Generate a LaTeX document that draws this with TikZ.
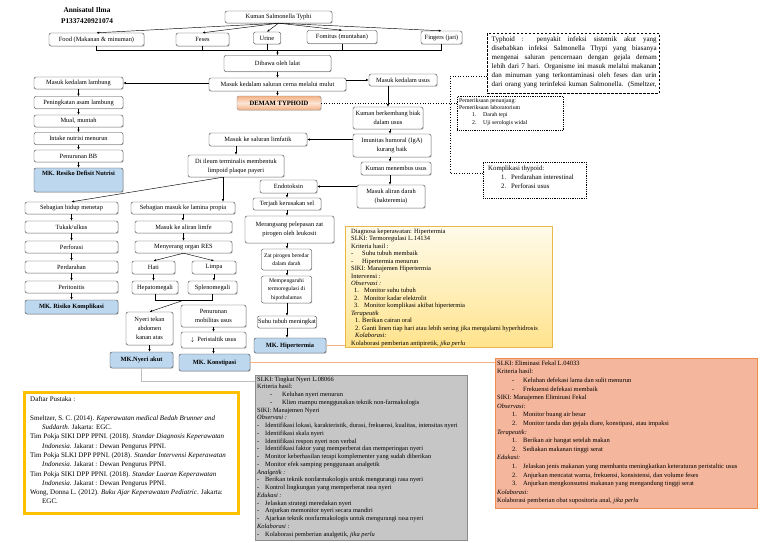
\documentclass[tikz,border=0pt]{standalone}
\usepackage{fontspec}
\setmainfont{Liberation Serif}
\usetikzlibrary{arrows.meta,calc,shadows}
\definecolor{mkblue}{HTML}{BDD7EE}
\definecolor{demamA}{HTML}{F4B183}
\definecolor{demamB}{HTML}{FBE5D6}
\definecolor{yelA}{HTML}{FFFBEA}
\definecolor{yelB}{HTML}{FFE38C}
\definecolor{yelborder}{HTML}{E8B94A}
\definecolor{grayfill}{HTML}{C6C6C6}
\definecolor{grayborder}{HTML}{8C8C8C}
\definecolor{orfill}{HTML}{F4B69C}
\definecolor{orborder}{HTML}{EE8B4E}
\definecolor{goldb}{HTML}{FFC000}
\newcommand\fb{\fontsize{6.4}{9}\selectfont}
\newcommand\fbs{\fontsize{5.7}{8.6}\selectfont}
\newcommand\itm[3]{\hspace*{#1}\makebox[#2][l]{#3}}
\newcommand\jl[1]{\makebox[165pt][s]{#1}}
\begin{document}
\begin{tikzpicture}[x=1pt,y=-1pt,
  sz/.style 2 args={minimum width=#1pt, minimum height=#2pt},
  shd/.style={drop shadow={shadow xshift=0.7pt,shadow yshift=-0.7pt,fill=black,opacity=0.22}},
  bx/.style={shd,draw=black!75, line width=0.4pt, rounded corners=2pt, fill=white, align=center, font=\fb, inner sep=0.5pt},
  bxs/.style={bx, font=\fbs},
  mk/.style={bx, fill=mkblue, font=\fontsize{6.4}{8}\selectfont\bfseries},
  demamst/.style={shd,draw=black!45, line width=0.4pt, rounded corners=2pt, top color=demamA, bottom color=demamA, middle color=demamB, font=\fontsize{6.6}{8}\selectfont\bfseries, inner sep=0.5pt},
  arr/.style={-{Latex[length=2.6pt,width=2.2pt]}, line width=0.45pt, black},
  ln/.style={line width=0.45pt, black},
  dotl/.style={dotted, line width=0.6pt, black},
  txt/.style={anchor=north west, inner sep=0pt, align=left}
]
\path[use as bounding box, fill=white] (0,0) rectangle (768,543);

% header
\node[font=\fontsize{7.3}{9}\selectfont\bfseries] (author) at (87,10) {Annisatul Ilma};
\node[font=\fontsize{7.3}{9}\selectfont\bfseries] (nim) at (87,21) {P1337420921074};

% top row
\node[bx,sz={107}{12}] (kuman) at (278.5,17) {Kuman Salmonella Typhi};
\node[bx,sz={95}{13}] (food) at (96.5,39.5) {Food (Makanan \& minuman)};
\node[bx,sz={53}{13}] (feses) at (202.5,39.5) {Feses};
\node[bx,sz={27}{12}] (urine) at (267,38) {Urine};
\node[bx,sz={70}{13}] (fomitus) at (342,37) {Fomitus (muntahan)};
\node[bx,sz={41}{13}] (fingers) at (441.5,37.5) {Fingers (jari)};
\foreach \n in {food,feses,urine,fomitus,fingers} \draw[arr] (kuman.south) -- (\n.north);

\node[bx,sz={107}{16}] (dibawa) at (277.5,63.5) {Dibawa oleh lalat};
\coordinate (brL) at ($(food.south)+(0,4)$);
\draw[ln] (food.south) -- (brL) -- (brL -| fingers.south) -- (fingers.south);
\draw[ln] (feses.south) -- (feses.south |- brL);
\draw[ln] (urine.south) -- (urine.south |- brL);
\draw[ln] (fomitus.south) -- (fomitus.south |- brL);
\draw[arr] (brL -| dibawa.north) -- (dibawa.north);

\node[bx,sz={137}{13}] (saluran) at (277.5,84.5) {Masuk kedalam saluran cerna melalui mulut};
\draw[arr] (dibawa) -- (saluran);
\node[bx,sz={68}{12}] (usus) at (403,80) {Masuk kedalam usus};
\draw[arr] (usus.west -| saluran.east) -- (usus.west);
\node[bx,sz={89}{12}] (lambung) at (78.5,83) {Masuk kedalam lambung};
\draw[arr] (saluran.west |- lambung.east) -- (lambung.east);
\node[demamst,sz={84}{14}] (demam) at (279,103) {DEMAM TYPHOID};
\draw[arr] (saluran.south) -- (saluran.south |- demam.north);

% left column
\node[bx,sz={89}{12}] (asam) at (78.5,102.5) {Peningkatan asam lambung};
\node[bx,sz={89}{12}] (mual) at (78.5,121) {Mual, muntah};
\node[bx,sz={89}{12}] (intake) at (78.5,138.5) {Intake nutrisi menurun};
\node[bx,sz={89}{12}] (bb) at (78.5,156) {Penurunan BB};
\node[mk,sz={89}{24},text height=5pt,text depth=14pt] (mkdef) at (78.5,180) {MK. Resiko Defisit Nutrisi};
\draw[arr] (lambung) -- (asam);
\draw[arr] (asam) -- (mual);
\draw[arr] (mual) -- (intake);
\draw[arr] (intake) -- (bb);
\draw[arr] (bb) -- (mkdef);

% right chain
\coordinate (rx) at (390,0);
\node[bx,sz={70}{22}] (kbb) at (388,118) {Kuman berkembang biak\\dalam usus};
\node[bx,sz={78}{23}] (imun) at (392,145.5) {Imunitas humoral (IgA)\\kurang baik};
\node[bx,sz={70}{13}] (tembus) at (396,168.5) {Kuman menembus usus};
\node[bx,sz={68}{23}] (darah) at (391,196.5) {Masuk aliran darah\\(bakteremia)};
\draw[arr] (usus.south -| kbb.north) -- (kbb.north);
\draw[arr] (kbb.south -| rx) -- (imun.north -| rx);
\draw[arr] (imun.south -| rx) -- (tembus.north -| rx);
\draw[arr] (tembus.south -| rx) -- (darah.north -| rx);

\node[bx,sz={98}{13}] (limf) at (258,139.5) {Masuk ke saluran limfatik};
\node[bx,sz={96}{22}] (ileum) at (236,166) {Di ileum terminalis membentuk\\limpoid plaque payeri};
\draw[arr] (limf.east -| imun.west) -- (limf.east);
\draw[arr] (ileum.north |- limf.south) -- (ileum.north);

\node[bx,sz={57}{13}] (endo) at (288.5,186.5) {Endotoksin};
\node[bx,sz={68}{12}] (rusak) at (287,204) {Terjadi kerusakan sel};
\node[bx,sz={89}{27}] (pirogen) at (289.5,229.5) {Merangsang pelepasan zat\\pirogen oleh leukosit};
\node[bxs,sz={50}{21}] (beredar) at (286.5,259.5) {Zat pirogen beredar\\dalam darah};
\node[bxs,sz={50}{27}] (termo) at (286.5,289.5) {Mempengaruhi\\termoregulasi di\\hipothalamus};
\node[bx,sz={58}{12}] (suhu) at (287,322) {Suhu tubuh meningkat};
\node[mk,sz={72}{15}] (mkhiper) at (290,345.5) {MK. Hipertermia};
\coordinate (mx) at (287,0);
\draw[arr] (endo.east -| darah.west) -- (endo.east);
\draw[arr] (endo.south -| mx) -- (rusak.north -| mx);
\draw[arr] (rusak.south -| mx) -- (pirogen.north -| mx);
\draw[arr] (pirogen.south -| mx) -- (beredar.north -| mx);
\draw[arr] (beredar.south -| mx) -- (termo.north -| mx);
\draw[arr] (termo.south -| mx) -- (suhu.north -| mx);
\draw[arr] (suhu.south -| mx) -- (mkhiper.north -| mx);

% lower left tree
\node[bx,sz={93}{12}] (hidup) at (71.5,208) {Sebagian hidup menetap};
\node[bx,sz={93}{12}] (tukak) at (71.5,227) {Tukak/ulkus};
\node[bx,sz={93}{12}] (perf) at (71.5,247) {Perforasi};
\node[bx,sz={93}{12}] (perd) at (71.5,267) {Perdarahan};
\node[bx,sz={93}{12}] (perit) at (71.5,287) {Peritonitis};
\node[mk,sz={93}{14}] (mkkomp) at (71.5,307) {MK. Risiko Komplikasi};
\draw[arr] (hidup) -- (tukak);
\draw[arr] (tukak) -- (perf);
\draw[arr] (perf) -- (perd);
\draw[arr] (perd) -- (perit);
\draw[arr] (perit) -- (mkkomp);

\coordinate (ib) at ($(ileum.south)+(-13,0)$);
\node[bx,sz={104}{12}] (lamina) at (183,208) {Sebagian masuk ke lamina propia};
\draw[arr] (ib) -- (hidup.north);
\draw[arr] (ib) -- (ib |- lamina.north);
\node[bx,sz={97}{12}] (limfe) at (183.5,227) {Masuk ke aliran limfe};
\node[bx,sz={97}{12}] (res) at (183.5,247) {Menyerang organ RES};
\draw[arr] (lamina.south) -- (lamina.south |- limfe.north);
\draw[arr] (limfe.south) -- (limfe.south |- res.north);
\node[bx,sz={43}{13}] (hati) at (153.5,267.5) {Hati};
\node[bx,sz={44}{13}] (limpa) at (214,267.5) {Limpa};
\node[bx,sz={46}{13}] (hepato) at (155,287.5) {Hepatomegali};
\node[bx,sz={49}{13}] (spleno) at (212.5,287.5) {Splenomegali};
\draw[arr] (res.south) -- (hati.north);
\draw[arr] (res.south) -- (limpa.north);
\draw[arr] (hati.south) -- (hati.south |- hepato.north);
\draw[arr] (limpa.south) -- (limpa.south |- spleno.north);
\coordinate (hb) at ($(hepato.south)+(0,6)$);
\draw[ln] (hepato.south) -- (hb) -- (hb -| spleno.south) -- (spleno.south);
\coordinate (hm) at ($(hb)!0.5!(hb -| spleno.south)$);
\node[bx,sz={47}{33}] (nyeri) at (149.5,328.5) {Nyeri tekan\\abdomen\\kanan atas};
\draw[arr] (hm) -- (nyeri.north);
\node[bx,sz={65}{22}] (penurunan) at (213.5,316) {Penurunan\\mobilitas usus};
\node[bx,sz={65}{16}] (peris) at (213.5,340) {$\downarrow$\hspace{3pt}Peristaltik usus};
\node[mk,sz={63}{16}] (mknyeri) at (141.5,360) {MK.Nyeri akut};
\node[mk,sz={71}{17}] (mkkonst) at (214.5,362.5) {MK. Konstipasi};
\draw[arr] (nyeri.south) -- (nyeri.south |- mknyeri.north);
\draw[arr] (penurunan.south) -- (penurunan.south |- peris.north);
\draw[arr] (peris.south) -- (peris.south |- mkkonst.north);

% info boxes top right
\node[draw=black, line width=0.9pt, dash pattern=on 2.5pt off 1.5pt, sz={172}{60}, anchor=north west, inner sep=0pt] (typ) at (487,33) {};
\node[txt, font=\fontsize{7}{9}\selectfont] (typtxt) at ($(typ.north west)+(4.5,3)$) {%
\jl{Typhoid : penyakit infeksi sistemik akut yang}\\
\jl{disebabkan infeksi Salmonella Thypi yang biasanya}\\
\jl{mengenai saluran pencernaan dengan gejala demam}\\
\jl{lebih dari 7 hari. Organisme ini masuk melalui makanan}\\
\jl{dan minuman yang terkontaminasi oleh feses dan urin}\\
\jl{dari orang yang terinfeksi kuman Salmonella. (Smeltzer,}};

\node[draw=black, line width=0.8pt, densely dotted, sz={106}{34}, anchor=north west, inner sep=0pt] (pem) at (457,96) {};
\node[txt, font=\fontsize{5.8}{7.3}\selectfont] (pemtxt) at ($(pem.north west)+(2,2)$) {%
Pemeriksaan penunjang:\\
Pemeriksaan laboratorium\\
\itm{13pt}{11pt}{1.}Darah tepi\\
\itm{13pt}{11pt}{2.}Uji serologis widal};

\node[draw=black, line width=0.8pt, densely dotted, sz={103}{36}, anchor=north west, inner sep=0pt] (komp) at (483,162) {};
\node[txt, font=\fontsize{6.8}{9}\selectfont] (komptxt) at ($(komp.north west)+(5,4)$) {%
Komplikasi thypoid:\\
\itm{13pt}{10pt}{1.}Perdarahan interestinal\\
\itm{13pt}{10pt}{2.}Perforasi usus};

\coordinate (dtop) at (450,76);
\coordinate (dbot) at (450,173);
\draw[dotl] (demam.east) -- (demam.east -| pem.west);
\draw[dotl] (typ.west |- dtop) -- (dtop) -- (dbot) -- (dbot -| komp.west);

% yellow box
\node[shd, draw=yelborder, line width=0.6pt, top color=yelA, bottom color=yelB, sz={207}{121}, anchor=north west, inner sep=0pt] (ybox) at (345,226) {};
\node[txt, font=\fontsize{6.5}{7.47}\selectfont] (ytxt) at ($(ybox.north west)+(6,2.5)$) {%
Diagnosa keperawatan: Hipertermia\\
SLKI: Termoregulasi L.14134\\
Kriteria hasil :\\
\itm{0pt}{11pt}{-}Suhu tubuh membaik\\
\itm{0pt}{11pt}{-}Hipertermia menurun\\
SIKI: Manajemen Hipertermia\\
Intervensi :\\
\textit{Observasi :}\\
\itm{3pt}{10pt}{1.}Monitor suhu tubuh\\
\itm{3pt}{10pt}{2.}Monitor kadar elektrolit\\
\itm{3pt}{10pt}{3.}Monitor komplikasi akibat hipertermia\\
\textit{Terapeutik}\\
\itm{4pt}{7pt}{1.}Berikan cairan oral\\
\itm{4pt}{7pt}{2.}Ganti linen tiap hari atau lebih sering jika mengalami hyperhidrosis\\
\hspace*{4pt}\textit{Kolaborasi:}\\
Kolaborasi pemberian antipiretik, \textit{jika perlu}};
\draw[draw=demamA, line width=1pt] (mkhiper.east) -- (mkhiper.east -| ybox.west);

% gray box
\node[shd, draw=grayborder, line width=0.6pt, fill=grayfill, sz={212}{165}, anchor=north west, inner sep=0pt] (gbox) at (255,375) {};
\node[txt, font=\fontsize{6.4}{7.75}\selectfont] (gtxt) at ($(gbox.north west)+(2,1.5)$) {%
SLKI: Tingkat Nyeri L.08066\\
Kriteria hasil:\\
\itm{13pt}{12pt}{-}Keluhan nyeri menurun\\
\itm{13pt}{12pt}{-}Klien mampu menggunakan teknik non-farmakologis\\
SIKI: Manajemen Nyeri\\
\textit{Observasi :}\\
\itm{0pt}{8pt}{-}Identifikasi lokasi, karakteristik, durasi, frekuensi, kualitas, intensitas nyeri\\
\itm{0pt}{8pt}{-}Identifikasi skala nyeri\\
\itm{0pt}{8pt}{-}Identifikasi respon nyeri non verbal\\
\itm{0pt}{8pt}{-}Identifikasi faktor yang memperberat dan memperingan nyeri\\
\itm{0pt}{8pt}{-}Monitor keberhasilan terapi komplementer yang sudah diberikan\\
\itm{0pt}{8pt}{-}Monitor efek samping penggunaan analgetik\\
\textit{Analgetik :}\\
\itm{0pt}{8pt}{-}Berikan teknik nonfarmakologis untuk mengurangi rasa nyeri\\
\itm{0pt}{8pt}{-}Kontrol lingkungan yang memperberat rasa nyeri\\
\textit{Edukasi :}\\
\itm{0pt}{8pt}{-}Jelaskan strategi meredakan nyeri\\
\itm{0pt}{8pt}{-}Anjurkan memonitor nyeri secara mandiri\\
\itm{0pt}{8pt}{-}Ajarkan teknik nonfarmakologis untuk mengurangi rasa nyeri\\
\textit{Kolaborasi :}\\
\itm{0pt}{8pt}{-}Kolaborasi pemberian analgetik, \textit{jika perlu}};
\draw[draw=black!25, line width=1pt] (mknyeri.south) |- ($(gbox.north west)+(0,6)$);

% orange box
\node[shd, draw=orborder, line width=0.8pt, fill=orfill, sz={262}{150}, anchor=north west, inner sep=0pt] (obox) at (495,358) {};
\node[txt, font=\fontsize{6.5}{8.6}\selectfont] (otxt) at ($(obox.north west)+(2,2.5)$) {%
SLKI: Eliminasi Fekal L.04033\\
Kriteria hasil:\\
\itm{15pt}{11pt}{-}Keluhan defekasi lama dan sulit menurun\\
\itm{15pt}{11pt}{-}Frekuensi defekasi membaik\\
SIKI: Manajemen Eliminasi Fekal\\
\textit{Observasi:}\\
\itm{15pt}{11pt}{1.}Monitor buang air besar\\
\itm{15pt}{11pt}{2.}Monitor tanda dan gejala diare, konstipasi, atau impaksi\\
\textit{Terapeutik:}\\
\itm{15pt}{11pt}{1.}Berikan air hangat setelah makan\\
\itm{15pt}{11pt}{2.}Sediakan makanan tinggi serat\\
\textit{Edukasi:}\\
\itm{15pt}{11pt}{1.}Jelaskan jenis makanan yang membantu meningkatkan keteraturan peristaltic usus\\
\itm{15pt}{11pt}{2.}Anjurkan mencatat warna, frekuensi, konsistensi, dan volume feses\\
\itm{15pt}{11pt}{3.}Anjurkan mengkonsumsi makanan yang mengandung tinggi serat\\
\textit{Kolaborasi:}\\
Kolaborasi pemberian obat supositoria anal, \textit{jika perlu}};
\draw[draw=demamA, line width=1pt] (mkkonst.east) -- (mkkonst.east -| obox.west);

% daftar pustaka
\node[draw=goldb, line width=3pt, sz={214}{121}, anchor=north west, inner sep=0pt] (dp) at (23,391) {};
\node[txt, font=\fontsize{7}{9.3}\selectfont] (dptxt) at ($(dp.north west)+(7,5.5)$) {%
Daftar Pustaka :\\[9.3pt]
Smeltzer, S. C. (2014). \textit{Keperawatan medical Bedah Brunner and}\\
\hspace*{12pt}\textit{Suddarth}. Jakarta: EGC.\\
Tim Pokja SIKI DPP PPNI. (2018). \textit{Standar Diagnosis Keperawatan}\\
\hspace*{12pt}\textit{Indonesia}. Jakarat : Dewan Pengurus PPNI.\\
Tim Pokja SLKI DPP PPNI. (2018). \textit{Standar Intervensi Keperawatan}\\
\hspace*{12pt}\textit{Indonesia}. Jakarat : Dewan Pengurus PPNI.\\
Tim Pokja SIKI DPP PPNI. (2018). \textit{Standar Luaran Keperawatan}\\
\hspace*{12pt}\textit{Indonesia}. Jakarat : Dewan Pengurus PPNI.\\
Wong, Donna L. (2012). \textit{Buku Ajar Keperawatan Pediatric}. Jakarta:\\
\hspace*{12pt}EGC.};
\end{tikzpicture}
\end{document}
